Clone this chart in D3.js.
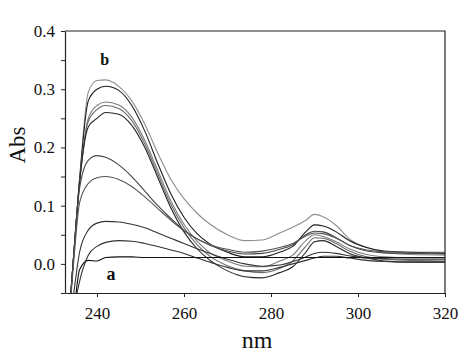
<!DOCTYPE html>
<html>
<head>
<meta charset="utf-8">
<script src="https://cdn.jsdelivr.net/npm/d3@7"></script>
<style>
  body { margin: 0; background: #fff; }
  svg text { font-family: "Times New Roman", "Liberation Serif", Times, serif; }
</style>
</head>
<body>
<div id="chart"></div>
<script>
// wavelength grid (nm) shared by all spectra
const wavelengths = [233, 234.5, 236, 238, 240, 242, 245, 248, 251, 254, 257, 260, 263, 266, 270, 274, 278, 282, 285, 288, 290, 292, 295, 298, 302, 306, 312, 320];

// absorbance, top curve (b) to bottom curve (a)
const curve1 = [-0.15, 0.0, 0.145, 0.295, 0.315, 0.316, 0.305, 0.28, 0.24, 0.19, 0.145, 0.112, 0.087, 0.068, 0.05, 0.04, 0.041, 0.053, 0.063, 0.075, 0.085, 0.081, 0.066, 0.043, 0.028, 0.02, 0.016, 0.015];
const curve2 = [-0.15, 0.0, 0.145, 0.28, 0.30, 0.305, 0.298, 0.272, 0.228, 0.172, 0.12, 0.08, 0.052, 0.034, 0.02, 0.012, 0.012, 0.02, 0.03, 0.055, 0.067, 0.065, 0.055, 0.04, 0.028, 0.022, 0.02, 0.018];
const curve3 = [-0.15, 0.0, 0.14, 0.25, 0.272, 0.278, 0.273, 0.252, 0.212, 0.16, 0.108, 0.068, 0.039, 0.019, 0.005, -0.004, -0.005, 0.005, 0.015, 0.04, 0.05, 0.047, 0.038, 0.026, 0.016, 0.012, 0.01, 0.01];
const curve4 = [-0.15, 0.0, 0.14, 0.245, 0.265, 0.272, 0.267, 0.246, 0.206, 0.154, 0.102, 0.062, 0.033, 0.013, -0.003, -0.012, -0.015, -0.008, 0.005, 0.03, 0.045, 0.044, 0.035, 0.022, 0.012, 0.008, 0.006, 0.005];
const curve5 = [-0.15, 0.0, 0.14, 0.235, 0.25, 0.26, 0.257, 0.238, 0.2, 0.148, 0.096, 0.055, 0.026, 0.006, -0.012, -0.022, -0.024, -0.015, -0.005, 0.02, 0.038, 0.04, 0.03, 0.018, 0.01, 0.005, 0.003, 0.003];
const curve6 = [-0.15, 0.0, 0.13, 0.178, 0.186, 0.183, 0.17, 0.15, 0.125, 0.10, 0.078, 0.058, 0.043, 0.032, 0.022, 0.017, 0.018, 0.025, 0.033, 0.05, 0.056, 0.055, 0.045, 0.032, 0.022, 0.019, 0.018, 0.017];
const curve7 = [-0.15, -0.01, 0.105, 0.138, 0.148, 0.15, 0.145, 0.133, 0.115, 0.095, 0.075, 0.057, 0.043, 0.033, 0.025, 0.02, 0.022, 0.028, 0.035, 0.048, 0.053, 0.052, 0.044, 0.032, 0.024, 0.021, 0.02, 0.02];
const curve8 = [-0.15, -0.06, 0.02, 0.058, 0.07, 0.073, 0.072, 0.068, 0.062, 0.053, 0.044, 0.035, 0.026, 0.018, 0.008, 0.0, -0.004, -0.002, 0.004, 0.012, 0.018, 0.02, 0.018, 0.014, 0.01, 0.009, 0.008, 0.008];
const curve9 = [-0.2, -0.09, -0.03, 0.015, 0.03, 0.037, 0.04, 0.039, 0.035, 0.03, 0.024, 0.018, 0.01, 0.003, -0.006, -0.012, -0.012, -0.006, 0.0, 0.006, 0.01, 0.013, 0.013, 0.01, 0.006, 0.004, 0.003, 0.003];
const curve10 = [-0.2, -0.1, -0.01, 0.006, 0.005, 0.011, 0.012, 0.012, 0.011, 0.011, 0.011, 0.011, 0.011, 0.011, 0.011, 0.011, 0.011, 0.011, 0.011, 0.011, 0.011, 0.011, 0.011, 0.011, 0.011, 0.011, 0.011, 0.011];

const curves = [curve1, curve2, curve3, curve4, curve5, curve6, curve7, curve8, curve9, curve10];
const curveColors = ['#8e8e8e', '#1e1e1e', '#7a7a7a', '#6a6a6a', '#262626', '#444', '#555', '#333', '#333', '#111'];

const xTicks = [240, 260, 280, 300, 320];
const yTicks = [0.0, 0.1, 0.2, 0.3, 0.4];
const yMinorTicks = [-0.05, 0.05, 0.15, 0.25, 0.35];

const width = 474;
const height = 354;
const margin = {top: 31, right: 29, bottom: 61, left: 65};

const svg = d3.select('#chart')
    .append('svg')
    .attr('width', width)
    .attr('height', height);

const x = d3.scaleLinear()
    .domain([232.65, 320])
    .range([margin.left, width - margin.right]);

const y = d3.scaleLinear()
    .domain([-0.05, 0.4])
    .range([height - margin.bottom, margin.top]);

// clip the spectra to the plot box
svg.append('clipPath')
    .attr('id', 'plot-clip')
    .append('rect')
    .attr('x', margin.left)
    .attr('y', margin.top)
    .attr('width', width - margin.left - margin.right)
    .attr('height', height - margin.top - margin.bottom);

const line = d3.line()
    .x(function(d, i) { return x(wavelengths[i]); })
    .y(function(d) { return y(d); })
    .curve(d3.curveMonotoneX);

svg.append('g')
    .attr('clip-path', 'url(#plot-clip)')
    .selectAll('path')
    .data(curves)
    .enter()
    .append('path')
    .attr('d', line)
    .attr('fill', 'none')
    .attr('stroke', function(d, i) { return curveColors[i]; })
    .attr('stroke-width', 1.1);

// box: top and right edges
svg.append('path')
    .attr('d', 'M' + margin.left + ',' + margin.top + 'H' + (width - margin.right) + 'V' + (height - margin.bottom))
    .attr('fill', 'none')
    .attr('stroke', '#222')
    .attr('stroke-width', 1.2);

// axes
svg.append('g')
    .attr('transform', 'translate(0,' + (height - margin.bottom) + ')')
    .call(d3.axisBottom(x).tickValues(xTicks).tickSize(4).tickSizeOuter(0).tickPadding(10));

svg.append('g')
    .attr('transform', 'translate(' + margin.left + ',0)')
    .call(d3.axisLeft(y).tickValues(yTicks).tickFormat(d3.format('.1f')).tickSize(4).tickSizeOuter(0).tickPadding(6));

svg.append('g')
    .attr('transform', 'translate(' + margin.left + ',0)')
    .call(d3.axisLeft(y).tickValues(yMinorTicks).tickFormat('').tickSize(4).tickSizeOuter(0))
    .select('.domain').remove();

svg.selectAll('.domain').attr('stroke', '#222').attr('stroke-width', 1.2);
svg.selectAll('.tick line').attr('stroke', '#222');
svg.selectAll('.tick text')
    .attr('font-family', null)
    .attr('font-size', '17px')
    .attr('fill', '#111');

// axis titles
svg.append('text')
    .attr('x', (margin.left + width - margin.right) / 2 + 2)
    .attr('y', 348)
    .attr('text-anchor', 'middle')
    .attr('font-size', '24px')
    .attr('fill', '#111')
    .text('nm');

svg.append('text')
    .attr('transform', 'translate(25,145) rotate(-90)')
    .attr('text-anchor', 'middle')
    .attr('font-size', '23px')
    .attr('fill', '#111')
    .text('Abs');

// curve labels
svg.append('text')
    .attr('x', x(241.8))
    .attr('y', 65)
    .attr('text-anchor', 'middle')
    .attr('font-size', '16px')
    .attr('font-weight', 'bold')
    .attr('fill', '#111')
    .text('b');

svg.append('text')
    .attr('x', x(243.2))
    .attr('y', 280)
    .attr('text-anchor', 'middle')
    .attr('font-size', '18px')
    .attr('font-weight', 'bold')
    .attr('fill', '#111')
    .text('a');
</script>
</body>
</html>
